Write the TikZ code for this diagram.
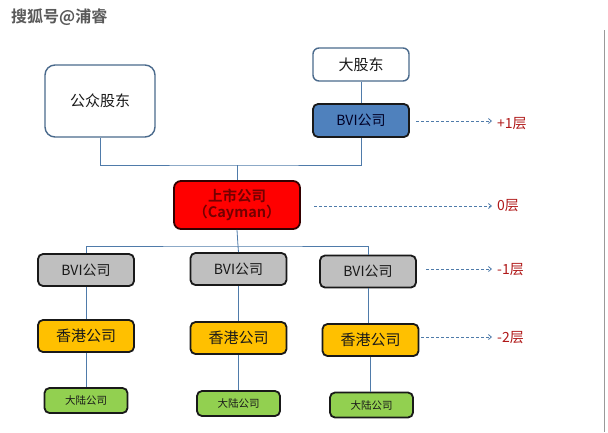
\documentclass[tikz,border=0pt]{standalone}
\usepackage{fontspec}
\setmainfont{Noto Sans CJK SC}
\newfontfamily\cjkb{Noto Sans CJK SC Bold}
\usetikzlibrary{arrows.meta}
\definecolor{edgeblue}{HTML}{4F7BAA}
\definecolor{boxline}{HTML}{4A6A8C}
\definecolor{bviblue}{HTML}{4F81BD}
\definecolor{lvlred}{HTML}{B01818}
\definecolor{hkorange}{HTML}{FFC000}
\definecolor{mlgreen}{HTML}{92D050}
\definecolor{greybox}{HTML}{BFBFBF}
\begin{document}
\begin{tikzpicture}[x=1pt,y=-1pt,
  plainbox/.style={draw=boxline,line width=1.4pt,fill=white,rounded corners=6pt,inner sep=0pt,font=\fontsize{15}{15}\selectfont,text=black!90},
  solidbox/.style={draw=black!90,line width=1.8pt,rounded corners=5pt,inner sep=0pt,text=black!90},
  bvibox/.style={solidbox,fill=greybox,minimum width=96pt,minimum height=32pt,font=\fontsize{14}{14}\selectfont},
  hkbox/.style={solidbox,fill=hkorange,minimum width=96pt,minimum height=32pt,font=\fontsize{15}{15}\selectfont},
  mlbox/.style={solidbox,fill=mlgreen,minimum width=83pt,minimum height=25pt,font=\fontsize{10.5}{10.5}\selectfont},
  link/.style={draw=edgeblue,line width=0.8pt},
  lvlarrow/.style={draw=edgeblue,line width=0.8pt,dash pattern=on 3pt off 2pt,-{Straight Barb[length=3pt,width=5pt]}},
  lvl/.style={anchor=west,inner sep=0pt,text=lvlred,font=\fontsize{14}{14}\selectfont}
]
\useasboundingbox (0,0) rectangle (608,432);
\fill[white] (0,0) rectangle (608,432);
\draw[black!40,line width=1pt] (604,30) -- (604,432);

% watermark
\node[inner sep=0pt,anchor=west,text=black!65,font=\cjkb\fontsize{16}{16}\selectfont] (wm) at (11,17) {搜狐号@浦睿};

% top nodes
\node[plainbox,minimum width=110pt,minimum height=72pt,rounded corners=10pt] (pub) at (100,101) {公众股东};
\node[plainbox,minimum width=96pt,minimum height=33pt] (big) at (361,64.5) {大股东};
\node[solidbox,fill=bviblue,minimum width=96pt,minimum height=33pt,text={black!85!blue},font=\fontsize{14}{14}\selectfont] (bvitop) at (361,120.5) {BVI公司};
\node[solidbox,fill=red,draw={black!80!red},minimum width=126pt,minimum height=48pt,rounded corners=7pt,text={red!45!black},align=center,font=\cjkb\fontsize{14.5}{16}\selectfont] (listed) at (237,205) {上市公司\\（Cayman）};

% bottom nodes
\node[bvibox] (bvi1) at (86,270) {BVI公司};
\node[bvibox] (bvi2) at (238.5,269) {BVI公司};
\node[bvibox] (bvi3) at (368,271.5) {BVI公司};
\node[hkbox] (hk1) at (86,336) {香港公司};
\node[hkbox] (hk2) at (238.5,338) {香港公司};
\node[hkbox] (hk3) at (370.5,340) {香港公司};
\node[mlbox] (ml1) at (86,400.5) {大陆公司};
\node[mlbox] (ml2) at (238.5,403.5) {大陆公司};
\node[mlbox] (ml3) at (371.5,405) {大陆公司};

% connectors
\coordinate (j1) at (237,165);
\coordinate (j2) at (238,246);
\draw[link] (pub.south) |- (j1) -| (bvitop.south);
\draw[link] (j1) -- (listed.north);
\draw[link] (big.south) -- (bvitop.north);
\draw[link] (listed.south) -- (j2);
\draw[link] (bvi1.north) |- (j2) -| (bvi3.north);
\draw[link] (j2) -- (bvi2.north);
\draw[link] (bvi1.south) -- (hk1.north);
\draw[link] (bvi2.south) -- (hk2.north);
\draw[link] (bvi3.south) -- (bvi3.south |- hk3.north);
\draw[link] (hk1.south) -- (ml1.north);
\draw[link] (hk2.south) -- (ml2.north);
\draw[link] (hk3.south) -- (hk3.south |- ml3.north);

% level labels
\node[lvl] (l1) at (497,124) {+1层};
\node[lvl] (l0) at (497,206) {0层};
\node[lvl] (lm1) at (497,270) {-1层};
\node[lvl] (lm2) at (497,338) {-2层};
\coordinate (a1) at (416,121);
\coordinate (a0) at (314,206);
\coordinate (am1) at (426,269);
\coordinate (am2) at (421,337);
\draw[lvlarrow] (a1) -- ++(76,0);
\draw[lvlarrow] (a0) -- ++(178,0);
\draw[lvlarrow] (am1) -- ++(66,0);
\draw[lvlarrow] (am2) -- ++(71,0);
\end{tikzpicture}
\end{document}
